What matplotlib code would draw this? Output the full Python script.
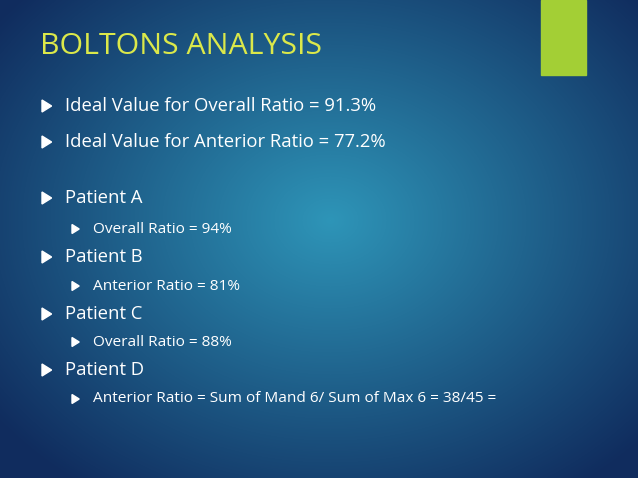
import matplotlib
matplotlib.use("Agg")
import matplotlib.pyplot as plt
import numpy as np
from matplotlib.patches import Rectangle, Polygon

title = "BOLTONS ANALYSIS"
items = [
    (1, "Ideal Value for Overall Ratio = 91.3%", 106),
    (1, "Ideal Value for Anterior Ratio = 77.2%", 142),
    (1, "Patient A", 198),
    (2, "Overall Ratio = 94%", 229),
    (1, "Patient B", 257),
    (2, "Anterior Ratio = 81%", 286),
    (1, "Patient C", 314),
    (2, "Overall Ratio = 88%", 342),
    (1, "Patient D", 370),
    (2, "Anterior Ratio = Sum of Mand 6/ Sum of Max 6 = 38/45 =", 399),
]

W, H = 638, 478
fig = plt.figure(figsize=(W/100, H/100), dpi=100)
ax = fig.add_axes([0, 0, 1, 1])
ax.set_xlim(0, W); ax.set_ylim(H, 0); ax.axis("off")

yy, xx = np.mgrid[0:H, 0:W]
r = np.sqrt(((xx-330)/420)**2 + ((yy-220)/330)**2)
r = np.clip(r, 0, 1)
c0 = np.array([0x2e, 0x95, 0xb8])/255
c1 = np.array([0x10, 0x2c, 0x5e])/255
img = c0[None, None, :]*(1-r[..., None]) + c1[None, None, :]*r[..., None]
ax.imshow(img, extent=[0, W, H, 0], aspect="auto", zorder=0)

ax.add_patch(Rectangle((541, 0), 45, 75, color="#a3cf35", zorder=1))
ax.text(40, 46, title, color="#dbe84a", fontsize=21.8, family="Open Sans", va="center", zorder=2)

for lvl, txt, y in items:
    if lvl == 1:
        bx, tx, s, fs = 42, 65, 6, 13.3
    else:
        bx, tx, s, fs = 72, 93, 4.5, 11.1
    ax.add_patch(Polygon([[bx, y-s], [bx, y+s], [bx+1.6*s, y]], color="white", zorder=2))
    ax.text(tx, y, txt, color="white", fontsize=fs, family="Open Sans", va="center", zorder=2)

fig.savefig("out.png", dpi=100)
